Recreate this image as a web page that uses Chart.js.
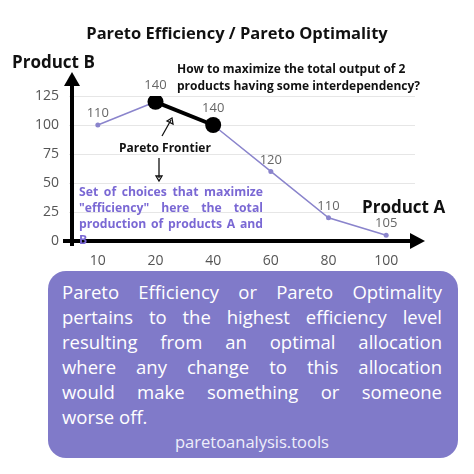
<!DOCTYPE html>
<html><head><meta charset="utf-8">
<script src="https://cdn.jsdelivr.net/npm/chart.js@4"></script>
<style>
body{margin:0;width:474px;height:474px;background:#fff;font-family:"Open Sans",sans-serif;position:relative;overflow:hidden}
#c{position:absolute;left:0;top:0}
.t{position:absolute;font-weight:700;color:#111}
#box{position:absolute;left:48px;top:271px;width:410px;height:187px;background:#807ac9;border-radius:18px;box-sizing:border-box;padding:8px 16px 0 14px;color:#fff;font-size:18.5px;line-height:25px}
#box .l{text-align:justify;text-align-last:justify;white-space:nowrap}
</style></head><body>
<canvas id="c" width="474" height="270" style="width:474px;height:270px"></canvas>
<div class="t" style="left:0;width:474px;top:21px;text-align:center;font-size:16.5px">Pareto Efficiency / Pareto Optimality</div>
<div class="t" style="left:12px;top:50px;font-size:17px">Product B</div>
<div class="t" style="left:177px;top:60px;font-size:12px;line-height:17px">How to maximize the total output of 2<br>products having some interdependency?</div>
<div class="t" style="left:119px;top:139px;font-size:12px">Pareto Frontier</div>
<div class="t" style="left:362px;top:195px;font-size:17px">Product A</div>
<div style="position:absolute;left:79px;top:184px;width:184px;font-size:12.2px;line-height:16px;font-weight:700;color:#7a68d4;text-align:justify;text-align-last:justify"><div>Set of choices that maximize</div><div>"efficiency" here the total</div><div>production of products A and B</div></div>
<div id="box"><div class="l">Pareto Efficiency or Pareto Optimality</div><div class="l">pertains to the highest efficiency level</div><div class="l">resulting from an optimal allocation</div><div class="l">where any change to this allocation</div><div class="l">would make something or someone</div><div>worse off.</div><div style="text-align:center;font-size:16.5px;color:#eeeefa">paretoanalysis.tools</div></div>
<script>
const categories=["10","20","40","60","80","100"];
const productB=[100,120,100,60,20,5];
const pointLabels=["110","140","140","120","110","105"];
const yTicks=[0,25,50,75,100,125];
const frontier=[1,2];
const purple="#8a84cc";
const deco={id:"deco",afterDatasetsDraw(ch){
 const c=ch.ctx,a=ch.chartArea,x=ch.scales.x,y=ch.scales.y;
 c.save();
 c.fillStyle="#666";c.font="13px 'Open Sans'";c.textAlign="center";c.textBaseline="bottom";
 productB.forEach((v,i)=>{const off=frontier.includes(i)?10:5;c.fillText(pointLabels[i],x.getPixelForValue(i),y.getPixelForValue(v)-off);});
 c.strokeStyle="#000";c.fillStyle="#000";c.lineWidth=4;c.lineCap="butt";
 const x0=a.left+3,y0=a.bottom;
 c.beginPath();c.moveTo(x0,y0+5);c.lineTo(x0,84);c.stroke();
 c.beginPath();c.moveTo(x0-8,86);c.lineTo(x0,72);c.lineTo(x0+8,86);c.closePath();c.fill();
 c.beginPath();c.moveTo(a.left-6,y0);c.lineTo(412,y0);c.stroke();
 c.beginPath();c.moveTo(410,y0-8);c.lineTo(425,y0);c.lineTo(410,y0+8);c.closePath();c.fill();
 c.lineWidth=1.3;c.strokeStyle="#111";
 c.beginPath();c.moveTo(162,136);c.lineTo(171,120);c.stroke();
 c.beginPath();c.moveTo(167,121);c.lineTo(172,118);c.lineTo(173,124);c.closePath();c.stroke();
 c.beginPath();c.moveTo(159,158);c.lineTo(159,178);c.stroke();
 c.beginPath();c.moveTo(156,176);c.lineTo(162,176);c.lineTo(159,181);c.closePath();c.stroke();
 c.restore();}};
new Chart(document.getElementById("c"),{type:"line",
 data:{labels:categories,datasets:[{data:productB,borderColor:purple,borderWidth:1.5,
  pointRadius:productB.map((v,i)=>frontier.includes(i)?8:2.5),
  pointBackgroundColor:productB.map((v,i)=>frontier.includes(i)?"#000":purple),
  pointBorderWidth:0,
  segment:{borderColor:s=>s.p0DataIndex===1?"#000":purple,borderWidth:s=>s.p0DataIndex===1?4:1.5}}]},
 options:{responsive:false,animation:false,events:[],
  layout:{padding:{top:96,right:59,left:0,bottom:0}},
  plugins:{legend:{display:false},tooltip:{enabled:false}},
  scales:{
   x:{offset:true,grid:{display:false},border:{display:false},
      ticks:{color:"#555",font:{size:14,family:"Open Sans"},padding:4},
      afterFit(s){s.height=29;}},
   y:{min:0,max:125,afterBuildTicks(s){s.ticks=yTicks.map(v=>({value:v}));},
      grid:{color:"#e6e6e6",drawTicks:false},border:{display:false},
      ticks:{color:"#555",font:{size:14,family:"Open Sans"},padding:10},
      afterFit(s){s.width=69;}}}},
 plugins:[deco]});
</script></body></html>
